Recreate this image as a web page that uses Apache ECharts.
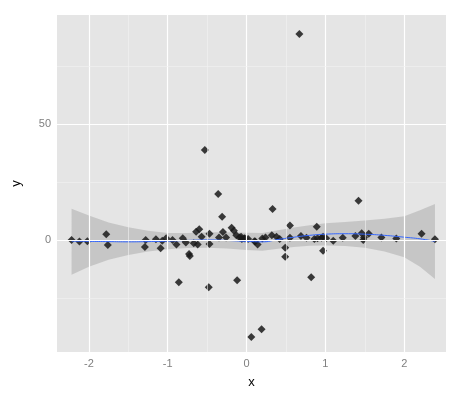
<!DOCTYPE html>
<html><head><meta charset="utf-8">
<script src="https://cdn.jsdelivr.net/npm/echarts@6/dist/echarts.min.js"></script>
<style>html,body{margin:0;padding:0;background:#fff}#c{width:474px;height:405px}</style>
</head><body><div id="c"></div>
<script>
const pointX = [-2.22,-2.12,-2.02,-1.78,-1.76,-1.28,-1.29,-1.15,-1.09,-1.07,-1.02,-0.94,-0.89,-0.81,-0.77,-0.86,-0.73,-0.72,-0.67,-0.64,-0.60,-0.62,-0.57,-0.53,-0.48,-0.47,-0.47,-0.36,-0.35,-0.31,-0.30,-0.26,-0.19,-0.16,-0.12,-0.13,-0.09,-0.06,-0.02,0.02,0.10,0.33,-0.07,-0.03,0.11,0.14,0.20,0.24,0.32,0.38,0.42,0.49,0.49,0.55,0.55,0.69,0.76,0.82,0.89,0.86,0.90,0.95,0.97,1.01,0.97,1.10,1.22,1.38,1.42,1.46,1.48,1.49,1.55,1.71,1.90,2.22,2.39,0.67,0.06,0.19];
const pointY = [0,-0.7,-0.6,2.5,-2.2,0,-3,0.3,-3.6,-0.3,0.7,0,-1.9,0.7,-1.1,-18.2,-6,-6.9,-1.4,3.6,4.6,-1.9,1.4,38.8,-20.4,-1.7,2.7,19.8,1.1,10,3.4,1.1,5.3,4,-17.4,2,1.1,0.4,0.6,0.4,-0.6,13.4,1.4,0.7,-0.7,-1.9,0.6,1.1,2,1.4,0.4,-3.3,-7.2,6.2,1,1.7,1,-16.1,5.7,0.4,0.7,1,1.4,0.7,-4.6,-0.3,1,1.7,16.9,2.9,0,1.1,2.7,1.1,0.6,2.7,0.3,88.8,-41.8,-38.5];
const smoothX = [-2.22,-2.0,-1.75,-1.5,-1.25,-1.0,-0.75,-0.5,-0.25,0,0.2,0.4,0.6,0.8,1.0,1.25,1.5,1.75,2.0,2.2,2.39];
const smoothY = [-0.5,-0.6,-0.7,-0.8,-0.7,-0.5,-0.2,0,-0.2,-0.6,-0.8,0.2,1.2,2.0,2.5,2.7,2.5,2.0,1.2,0.5,-0.6];
const bandLo = [-15,-11.5,-8.5,-6.5,-5,-4,-3.5,-3.3,-3.7,-4.3,-4.6,-3.8,-3,-2.5,-2.4,-2.6,-3.4,-5,-7.5,-11.5,-16.8];
const bandHi = [13.5,10.5,7.5,5.5,4,3,3,3.3,3.3,3.1,3,4.2,5.4,6.4,7.2,7.8,8.4,9.2,10.2,12.8,15.5];
const xTicks = [-2,-1,0,1,2];
const xMinor = [-1.5,-0.5,0.5,1.5];
const yTicks = [0,50];
const yMinor = [-25,25,75];

const grid = [];
xTicks.forEach(v=>grid.push({xAxis:v,lineStyle:{color:'#fff',width:1.2,type:'solid'}}));
xMinor.forEach(v=>grid.push({xAxis:v,lineStyle:{color:'#F2F2F2',width:0.6,type:'solid'}}));
yTicks.forEach(v=>grid.push({yAxis:v,lineStyle:{color:'#fff',width:1.2,type:'solid'}}));
yMinor.forEach(v=>grid.push({yAxis:v,lineStyle:{color:'#F2F2F2',width:0.6,type:'solid'}}));

const bandData = smoothX.map((x,i)=>[x,bandLo[i],bandHi[i]]);

const chart = echarts.init(document.getElementById('c'));
const lab = {color:'#7F7F7F',fontSize:11,fontFamily:'Liberation Sans'};
chart.setOption({
  animation:false,
  grid:{left:57,top:15,right:28,bottom:53,show:true,backgroundColor:'#E5E5E5',borderWidth:0},
  xAxis:{type:'value',min:-2.405,max:2.53,splitLine:{show:false},
    axisLine:{show:false},
    axisTick:{show:true,customValues:xTicks,length:4,lineStyle:{color:'#7F7F7F'}},
    axisLabel:Object.assign({customValues:xTicks,margin:6},lab),
    name:'x',nameLocation:'middle',nameGap:24,nameTextStyle:{color:'#000',fontSize:13,fontFamily:'Liberation Sans'}},
  yAxis:{type:'value',min:-48.3,max:97,splitLine:{show:false},
    axisLine:{show:false},
    axisTick:{show:true,customValues:yTicks,length:4,lineStyle:{color:'#7F7F7F'}},
    axisLabel:Object.assign({customValues:yTicks,margin:6},lab),
    name:'y',nameLocation:'middle',nameGap:34,nameRotate:90,nameTextStyle:{color:'#000',fontSize:13,fontFamily:'Liberation Sans'}},
  series:[
    {type:'line',data:[],z:0,markLine:{silent:true,symbol:'none',label:{show:false},data:grid}},
    {type:'custom',data:bandData,z:1,silent:true,
      renderItem:function(params,api){
        if(params.dataIndex!==0) return null;
        const up=[],lo=[];
        bandData.forEach(d=>{up.push(api.coord([d[0],d[2]]));lo.push(api.coord([d[0],d[1]]));});
        return {type:'polygon',shape:{points:up.concat(lo.reverse())},style:{fill:'rgba(153,153,153,0.4)'}};
      }},
    {type:'scatter',data:pointX.map((x,i)=>[x,pointY[i]]),symbol:'diamond',symbolSize:8,itemStyle:{color:'#1a1a1a',opacity:0.85},z:3},
    {type:'line',data:smoothX.map((x,i)=>[x,smoothY[i]]),smooth:true,symbol:'none',lineStyle:{color:'#3366FF',width:1},z:4}
  ]
});
</script></body></html>
